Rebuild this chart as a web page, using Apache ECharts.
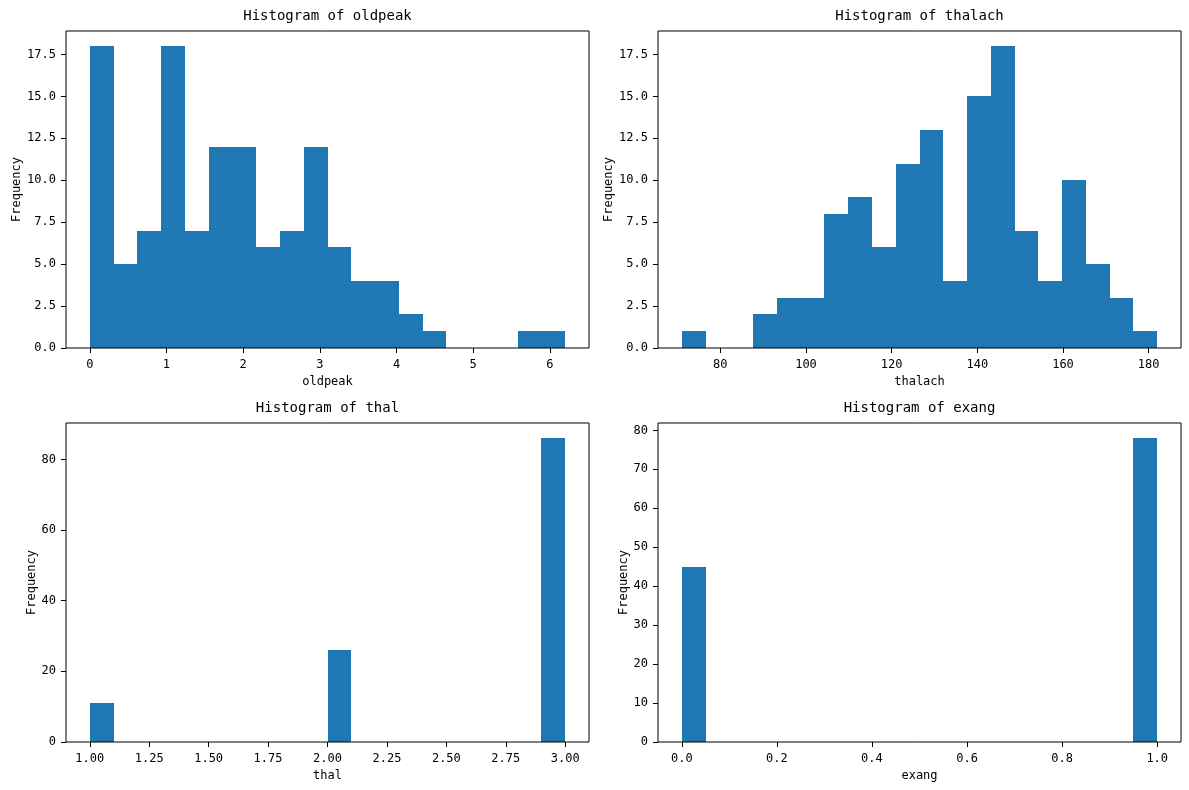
<!DOCTYPE html>
<html>
<head>
<meta charset="utf-8">
<script src="https://cdn.jsdelivr.net/npm/echarts@6/dist/echarts.min.js"></script>
<style>
html,body{margin:0;padding:0;background:#fff;}
#c{width:1189px;height:790px;}
</style>
</head>
<body>
<div id="c"></div>
<script>
// ---- data ----
const titles = ['Histogram of oldpeak', 'Histogram of thalach', 'Histogram of thal', 'Histogram of exang'];
const xNames = ['oldpeak', 'thalach', 'thal', 'exang'];

const oldpeakRange = [0, 6.2];
const oldpeakCounts = [18, 5, 7, 18, 7, 12, 12, 6, 7, 12, 6, 4, 4, 2, 1, 0, 0, 0, 1, 1];

const thalachRange = [71, 182];
const thalachCounts = [1, 0, 0, 2, 3, 3, 8, 9, 6, 11, 13, 4, 15, 18, 7, 4, 10, 5, 3, 1];

const thalRange = [1, 3];
const thalCounts = [11, 0, 0, 0, 0, 0, 0, 0, 0, 0, 26, 0, 0, 0, 0, 0, 0, 0, 0, 86];

const exangRange = [0, 1];
const exangCounts = [45, 0, 0, 0, 0, 0, 0, 0, 0, 0, 0, 0, 0, 0, 0, 0, 0, 0, 0, 78];

const oldpeakXTicks = [0, 1, 2, 3, 4, 5, 6];
const thalachXTicks = [80, 100, 120, 140, 160, 180];
const thalXTicks = [1.00, 1.25, 1.50, 1.75, 2.00, 2.25, 2.50, 2.75, 3.00];
const exangXTicks = [0.0, 0.2, 0.4, 0.6, 0.8, 1.0];

const freqTicksSmall = [0, 2.5, 5, 7.5, 10, 12.5, 15, 17.5];
const thalYTicks = [0, 20, 40, 60, 80];
const exangYTicks = [0, 10, 20, 30, 40, 50, 60, 70, 80];

// ---- build ----
const FONT = '"DejaVu Sans Mono", "Liberation Mono", monospace';
const COLOR = '#1f77b4';

const panels = [
  {range: oldpeakRange, counts: oldpeakCounts, xt: oldpeakXTicks, xd: 0, yt: freqTicksSmall, yd: 1,
   grid: {left: 66, top: 31, width: 523, height: 317}, yGap: 40},
  {range: thalachRange, counts: thalachCounts, xt: thalachXTicks, xd: 0, yt: freqTicksSmall, yd: 1,
   grid: {left: 658, top: 31, width: 523, height: 317}, yGap: 40},
  {range: thalRange, counts: thalCounts, xt: thalXTicks, xd: 2, yt: thalYTicks, yd: 0,
   grid: {left: 66, top: 423, width: 523, height: 319}, yGap: 26},
  {range: exangRange, counts: exangCounts, xt: exangXTicks, xd: 1, yt: exangYTicks, yd: 0,
   grid: {left: 658, top: 423, width: 523, height: 319}, yGap: 26}
];

function binsOf(p) {
  const n = p.counts.length;
  const w = (p.range[1] - p.range[0]) / n;
  return p.counts.map((c, i) => [p.range[0] + i * w, p.range[0] + (i + 1) * w, c]);
}

const option = {
  animation: false,
  backgroundColor: '#fff',
  textStyle: {fontFamily: FONT},
  title: [], grid: [], xAxis: [], yAxis: [], series: []
};

panels.forEach((p, i) => {
  const span = p.range[1] - p.range[0];
  const xmin = p.range[0] - span * 0.05;
  const xmax = p.range[1] + span * 0.05;
  const ymax = Math.max.apply(null, p.counts) * 1.05;
  option.grid.push({left: p.grid.left, top: p.grid.top, width: p.grid.width, height: p.grid.height,
    show: true, borderColor: '#000', borderWidth: 1, backgroundColor: 'transparent', containLabel: false, z: 5});
  option.title.push({
    text: titles[i], left: p.grid.left + p.grid.width / 2, top: p.grid.top - 22, textAlign: 'center', padding: 0,
    textStyle: {fontFamily: FONT, fontSize: 14, fontWeight: 'normal', color: '#000'}
  });
  option.xAxis.push({
    type: 'value', gridIndex: i, min: xmin, max: xmax,
    name: xNames[i], nameLocation: 'middle', nameGap: 28,
    nameTextStyle: {fontFamily: FONT, fontSize: 12, color: '#000'},
    splitLine: {show: false},
    axisLine: {show: false, onZero: false},
    axisTick: {show: true, inside: false, length: 5, lineStyle: {color: '#000'}, customValues: p.xt},
    axisLabel: {show: true, margin: 11, fontFamily: FONT, fontSize: 12, color: '#000', customValues: p.xt,
      formatter: v => Number(v).toFixed(p.xd)}
  });
  option.yAxis.push({
    type: 'value', gridIndex: i, min: 0, max: ymax,
    name: 'Frequency', nameLocation: 'middle', nameGap: p.yGap, nameRotate: 90,
    nameTextStyle: {fontFamily: FONT, fontSize: 12, color: '#000'},
    splitLine: {show: false},
    axisLine: {show: false, onZero: false},
    axisTick: {show: true, inside: false, length: 5, lineStyle: {color: '#000'}, customValues: p.yt},
    axisLabel: {show: true, margin: 10, fontFamily: FONT, fontSize: 12, color: '#000', customValues: p.yt,
      formatter: v => Number(v).toFixed(p.yd)}
  });
  option.series.push({
    type: 'custom', xAxisIndex: i, yAxisIndex: i,
    data: binsOf(p),
    encode: {x: [0, 1], y: 2},
    renderItem: function (params, api) {
      const x0 = api.value(0), x1 = api.value(1), c = api.value(2);
      if (!c) return null;
      const a = api.coord([x0, c]);
      const b = api.coord([x1, 0]);
      const l = Math.round(a[0]), r = Math.round(b[0]);
      const t = Math.round(a[1]), btm = Math.round(b[1]);
      return {
        type: 'rect',
        shape: {x: l, y: t, width: r - l, height: btm - t},
        style: {fill: COLOR}
      };
    }
  });
});

const chart = echarts.init(document.getElementById('c'), null, {renderer: 'canvas'});
chart.setOption(option);
</script>
</body>
</html>
